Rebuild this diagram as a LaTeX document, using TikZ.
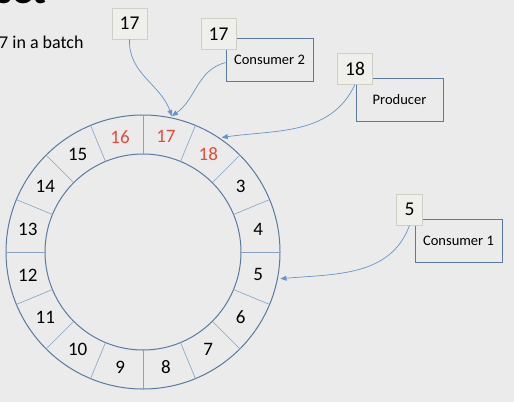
\documentclass[tikz,border=0pt]{standalone}
\usepackage{fontspec}
\setmainfont{Carlito}
\usetikzlibrary{arrows.meta,calc}
\definecolor{slidebg}{HTML}{EBEBEB}
\definecolor{ringline}{HTML}{5A7AA0}
\definecolor{spokeline}{HTML}{88A2C2}
\definecolor{arrowline}{HTML}{6694C8}
\definecolor{numfill}{HTML}{EFEFEB}
\definecolor{numedge}{HTML}{CFCFC4}
\definecolor{hot}{HTML}{E84A3A}

\begin{document}
\begin{tikzpicture}[x=1pt,y=1pt,
  numbox/.style={draw=numedge,fill=numfill,line width=0.8pt,minimum width=35pt,minimum height=31pt,inner sep=0pt,font=\fontsize{19.5}{21}\selectfont},
  rolebox/.style={draw=ringline,fill=slidebg,line width=0.9pt,minimum width=87pt,minimum height=43pt,inner sep=0pt,font=\fontsize{14.5}{16}\selectfont},
  slot/.style={inner sep=0pt,font=\fontsize{19}{21}\selectfont},
  feed/.style={draw=arrowline,line width=0.7pt,-{Triangle[length=6pt,width=5pt]}}]
\fill[slidebg] (0,0) rectangle (514,-402);
\useasboundingbox (0,0) rectangle (514,-402);
\clip (0,0) rectangle (514,-402);

% slide text, cut off at the top
\node[anchor=base west,inner sep=0pt,font=\fontsize{40}{44}\selectfont\bfseries] (title) at (-4,-3.5) {set};
\node[anchor=base west,inner sep=0pt,font=\fontsize{18}{20}\selectfont] (batch) at (-1,-48.5) {7 in a batch};

% ring buffer
\coordinate (c) at (143,-252);
\draw[ringline,line width=1pt] (c) circle[radius=137];
\draw[ringline,line width=1pt] (c) circle[radius=98];
\foreach \k in {0,...,15}
  \draw[spokeline,line width=0.6pt] ($(c)+(90-22.5*\k:98)$) -- ($(c)+(90-22.5*\k:137)$);
\foreach \n/\col [count=\i from 0] in {16/hot,17/hot,18/hot,3/black,4/black,5/black,6/black,7/black,
    8/black,9/black,10/black,11/black,12/black,13/black,14/black,15/black}
  \node[slot,text=\col] (s\n) at ($(c)+(101.25-22.5*\i:117.5)$) {\n};

\coordinate (tip17) at ($(c)+(78:139)$);
\coordinate (tip18) at ($(c)+(55.5:139)$);
\coordinate (tip5) at ($(c)+(-11:140)$);

% readers and writer
\node[rolebox] (cons2) at (269.5,-59.5) {Consumer 2};
\node[rolebox] (prod) at (399.5,-100) {Producer};
\node[rolebox] (cons1) at (458.5,-240.5) {Consumer 1};
\node[numbox] (n17a) at (129.5,-23.5) {17};
\node[numbox] (n17b) at (218.5,-34) {17};
\node[numbox] (n18) at (355,-68.5) {18};
\node[numbox,minimum width=26pt] (n5) at (409.5,-209.5) {5};

\draw[feed] (n17a.south) to[out=-92,in=110] (tip17);
\draw[feed] ([yshift=-3pt]cons2.west) to[out=195,in=35] (tip17);
\draw[feed] (n18.south) to[out=-115,in=8] (tip18);
\draw[feed] (n5.south) to[out=-110,in=5] (tip5);
\end{tikzpicture}
\end{document}
